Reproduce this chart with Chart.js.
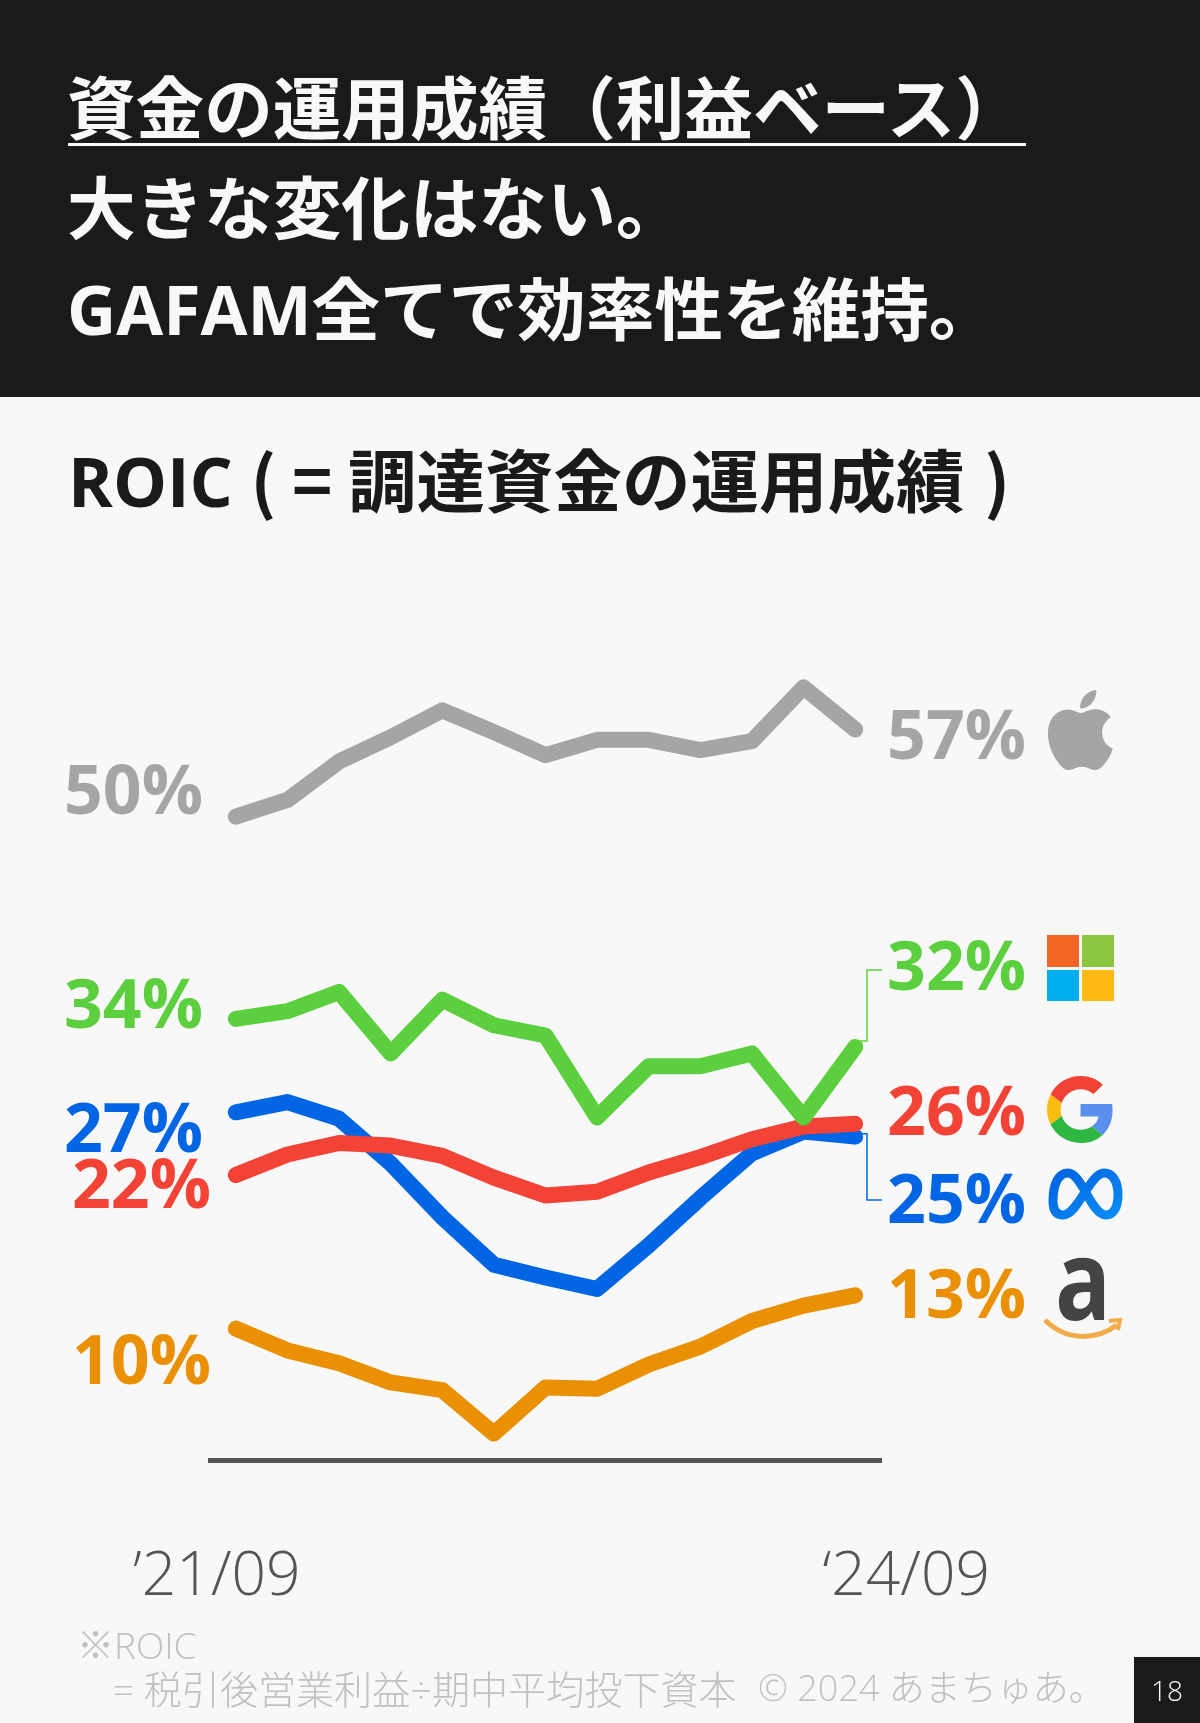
<!DOCTYPE html>
<html lang="ja">
<head>
<meta charset="utf-8">
<title>ROIC</title>
<script src="https://cdn.jsdelivr.net/npm/chart.js@4"></script>
<style>
  html, body { margin: 0; padding: 0; background: #f8f8f8; }
  #page { position: relative; width: 1200px; height: 1723px; overflow: hidden; background: #f8f8f8;
    font-family: "Open Sans", "Noto Sans CJK JP", sans-serif; }
  #head { position: absolute; left: 0; top: 0; width: 1200px; height: 397px; background: #1a1a1a; }
  .t { position: absolute; white-space: nowrap; line-height: 1; }
  .title { left: 67px; font-size: 68.6px; font-weight: 700; color: #f8f8f8; }
  .cjk { font-family: "Noto Sans CJK JP", sans-serif; }
  .latin { font-size: 68px; }
  #rule { position: absolute; left: 68px; top: 143px; width: 958px; height: 3px; background: #f8f8f8; }
  .note { font-size: 37px; font-weight: 300; color: #c0c0c0; }
  #pageNo { position: absolute; left: 1134px; top: 1657px; width: 66px; height: 66px; background: #1a1a1a;
    color: #f8f8f8; font-size: 28px; font-weight: 300; line-height: 66px; text-align: center; }
  canvas { position: absolute; left: 0; top: 0; }
  svg { position: absolute; overflow: visible; }
</style>
</head>
<body>
<div id="page">
  <div id="head"></div>
  <div class="t title" style="top:74px">資金の運用成績（利益ベース）</div>
  <div id="rule"></div>
  <div class="t title" style="top:174px">大きな変化はない。</div>
  <div class="t title" style="top:275px"><span class="latin">GAFAM</span>全てで効率性を維持。</div>
  <div class="t cjk" style="left:68px;top:444px;font-size:68.5px;font-weight:700;color:#1a1a1a"><span style="font-family:'Open Sans';font-size:68px">ROIC </span>( = 調達資金の運用成績 &#8202;)</div>

  <canvas id="chart" width="1200" height="1723"></canvas>

  <!-- logos -->
  <svg style="left:1048px;top:690px" width="65" height="80" viewBox="3.9 2 16.2 20">
    <path fill="#a5a5a5" d="M18.71 19.5c-.83 1.24-1.71 2.45-3.05 2.47-1.34.03-1.77-.79-3.29-.79-1.53 0-2 .77-3.27.82-1.31.05-2.3-1.32-3.14-2.53C4.25 17 2.94 12.45 4.7 9.39c.87-1.52 2.43-2.48 4.12-2.51 1.28-.02 2.5.87 3.29.87.78 0 2.26-1.07 3.81-.91.65.03 2.47.26 3.64 1.98-.09.06-2.17 1.28-2.15 3.81.03 3.02 2.65 4.03 2.68 4.04-.03.07-.42 1.44-1.38 2.83M13 3.5c.73-.83 1.94-1.46 2.94-1.5.13 1.17-.34 2.35-1.04 3.19-.69.85-1.83 1.51-2.95 1.42-.15-1.15.41-2.35 1.05-3.11z"/>
  </svg>
  <svg style="left:1047px;top:935px" width="67" height="66" viewBox="0 0 67 66">
    <rect x="0" y="0" width="32" height="32" fill="#f26522"/>
    <rect x="35" y="0" width="32" height="32" fill="#8dc63f"/>
    <rect x="0" y="35" width="32" height="31" fill="#00adef"/>
    <rect x="35" y="35" width="32" height="31" fill="#fdb913"/>
  </svg>
  <svg style="left:1047px;top:1076px" width="67" height="67" viewBox="0 0 48 48">
    <path fill="#f24236" d="M24 9.5c3.54 0 6.71 1.22 9.21 3.6l6.85-6.85C35.9 2.38 30.47 0 24 0 14.62 0 6.51 5.38 2.56 13.22l7.98 6.19C12.43 13.72 17.74 9.5 24 9.5z"/>
    <path fill="#5a8fee" d="M46.98 24.55c0-1.57-.15-3.09-.38-4.55H24v9.02h12.94c-.58 2.96-2.26 5.48-4.78 7.18l7.73 6c4.51-4.18 7.09-10.36 7.09-17.65z"/>
    <path fill="#fbbc10" d="M10.53 28.59c-.48-1.45-.76-2.99-.76-4.59s.27-3.14.76-4.59l-7.98-6.19C.92 16.46 0 20.12 0 24c0 3.88.92 7.54 2.56 10.78l7.97-6.19z"/>
    <path fill="#2fb744" d="M24 48c6.48 0 11.93-2.13 15.89-5.81l-7.73-6c-2.15 1.45-4.92 2.3-8.16 2.3-6.26 0-11.57-4.22-13.47-9.91l-7.98 6.19C6.51 42.62 14.62 48 24 48z"/>
  </svg>
  <svg style="left:1048px;top:1168px" width="75" height="52" viewBox="0 0 75 52">
    <defs><linearGradient id="mg" x1="0" x2="1" y1="0" y2="1"><stop offset="0" stop-color="#0064e0"/><stop offset="1" stop-color="#0a8cf5"/></linearGradient></defs>
    <path fill="none" stroke="url(#mg)" stroke-width="9" d="M5 33 C5 15 11 5 20 5 C34 5 43 47 58 47 C65 47 70 40 70 27 C70 14 65 5 56 5 C42 5 30 47 15 47 C8 47 5 42 5 33Z"/>
  </svg>
  <svg style="left:1043px;top:1258px" width="80" height="82" viewBox="0 0 80 82">
    <text x="40" y="62" text-anchor="middle" font-family="Open Sans" font-weight="700" font-size="112" fill="#444" textLength="56" lengthAdjust="spacingAndGlyphs">a</text>
    <path fill="none" stroke="#f3ab4a" stroke-width="5" d="M2 62 C24 84 54 82 74 67"/>
    <path fill="none" stroke="#f3ab4a" stroke-width="4" d="M66 63 L77 62 L75 72"/>
  </svg>

  <div class="t note" style="left:77px;top:1626px">※ROIC</div>
  <div class="t note" style="left:113px;top:1670px">= <span style="font-size:38.1px">税引後営業利益÷期中平均投下資本</span></div>
  <div class="t note" style="left:758px;top:1670px;font-size:36px">© 2024 あまちゅあ。</div>
  <div id="pageNo">18</div>
</div>

<script>
const quarters = ['21/09', '21/12', '22/03', '22/06', '22/09', '22/12', '23/03', '23/06', '23/09', '23/12', '24/03', '24/06', '24/09'];
const axisLabels = ['’21/09', '‘24/09'];

const apple = [50, 51.3, 54.3, 56.2, 58.3, 56.6, 54.8, 56, 56, 55.2, 55.9, 60.1, 56.8];
const microsoft = [34.2, 34.8, 36.3, 31.5, 35.7, 33.7, 32.9, 26.5, 30.5, 30.5, 31.5, 26.5, 32];
const google = [22, 23.6, 24.5, 24.3, 23.5, 21.8, 20.4, 20.7, 22.2, 23.4, 24.8, 25.8, 26];
const meta = [26.9, 27.7, 26.4, 22.9, 18.7, 15, 14, 13.1, 16.5, 20.2, 23.7, 25.4, 25];
const amazon = [10, 8.3, 7.3, 5.8, 5.2, 1.8, 5.4, 5.3, 7.2, 8.6, 10.6, 11.8, 12.6];

const labelFont = '700 68px "Open Sans", "Noto Sans CJK JP"';
const tickFont = '300 60.5px "Open Sans", "Noto Sans CJK JP"';

// label placement per dataset: right edge and centre y at the start, centre y at the end
const labelSpots = [
  { right: 203, startY: 795, endY: 740 },
  { right: 203, startY: 1009, endY: 971, leader: 970, tap: -6 },
  { right: 211, startY: 1189, endY: 1116 },
  { right: 203, startY: 1133, endY: 1204, leader: 1200, tap: -3 },
  { right: 211, startY: 1365, endY: 1299 },
];

const endLabels = {
  id: 'endLabels',
  afterDraw(chart) {
    const { ctx, scales: { x, y } } = chart;
    ctx.save();
    ctx.textBaseline = 'middle';
    ctx.font = labelFont;
    chart.data.datasets.forEach((ds, i) => {
      const spot = labelSpots[i];
      const first = ds.data[0];
      const last = ds.data[ds.data.length - 1];
      ctx.fillStyle = ds.borderColor;
      ctx.textAlign = 'right';
      ctx.fillText(Math.round(first) + '%', spot.right, spot.startY);
      ctx.textAlign = 'left';
      ctx.fillText(Math.round(last) + '%', 887, spot.endY);
      if (spot.leader) {
        const px = x.getPixelForValue(ds.data.length - 1);
        const py = y.getPixelForValue(last) + spot.tap;
        ctx.beginPath();
        ctx.strokeStyle = ds.borderColor;
        ctx.lineWidth = 1.5;
        ctx.moveTo(px + 4, py);
        ctx.lineTo(867, py);
        ctx.lineTo(867, spot.leader);
        ctx.lineTo(882, spot.leader);
        ctx.stroke();
      }
    });
    // only the two ends of the time axis get a label, pushed out from the first/last point
    ctx.font = tickFont;
    ctx.fillStyle = '#555';
    ctx.textAlign = 'center';
    ctx.fillText(axisLabels[0], x.getPixelForValue(0) - 19, 1578);
    ctx.fillText(axisLabels[1], x.getPixelForValue(quarters.length - 1) + 51, 1578);
    ctx.restore();
  },
};

new Chart(document.getElementById('chart'), {
  type: 'line',
  data: {
    labels: quarters,
    datasets: [
      { label: 'Apple', data: apple, borderColor: '#a5a5a5' },
      { label: 'Microsoft', data: microsoft, borderColor: '#5bcf3e' },
      { label: 'Google', data: google, borderColor: '#f34336' },
      { label: 'Meta', data: meta, borderColor: '#0266e4' },
      { label: 'Amazon', data: amazon, borderColor: '#ea9004' },
    ],
  },
  options: {
    responsive: false,
    animation: false,
    layout: { padding: { left: 210, right: 319, top: 663, bottom: 262.5 } },
    elements: {
      line: { borderWidth: 16, tension: 0, borderCapStyle: 'round', borderJoinStyle: 'round', fill: false },
      point: { radius: 0 },
    },
    plugins: { legend: { display: false }, tooltip: { enabled: false } },
    scales: {
      x: {
        offset: true,
        grid: { display: false },
        ticks: { display: false },
        border: { color: '#555', width: 5 },
        afterFit: (scale) => { scale.height = 0; },
      },
      y: { display: false, min: -0.3, max: 62 },
    },
  },
  plugins: [endLabels],
});
</script>
</body>
</html>
